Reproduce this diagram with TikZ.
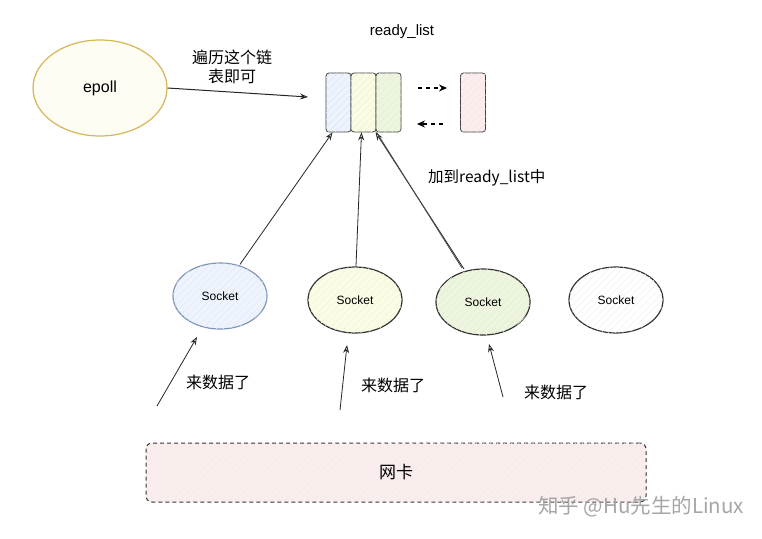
\documentclass[tikz,border=0pt]{standalone}
\usepackage{fontspec}
\setmainfont{Liberation Sans}
\newfontfamily\cjk{Noto Sans CJK SC}
\usetikzlibrary{patterns.meta,arrows.meta,shapes.geometric}
\definecolor{fblue}{HTML}{EEF4FB}
\definecolor{fyellow}{HTML}{FBFCE6}
\definecolor{fgreen}{HTML}{EEF5DF}
\definecolor{fpink}{HTML}{F9EEEE}
\definecolor{epollfill}{HTML}{FEFDF3}
\definecolor{epolldraw}{HTML}{D6B656}
\definecolor{sockblue}{HTML}{7F95B5}
\tikzset{
  hatch/.style={postaction={pattern={Lines[angle=45,distance=5pt,line width=0.5pt]},pattern color=#1}},
  cell/.style={draw=black!75,line width=0.8pt,rounded corners=3pt,minimum width=25pt,minimum height=59pt,inner sep=0pt},
  sock/.style={ellipse,draw=black!80,line width=1.2pt,minimum width=94pt,minimum height=66pt,inner sep=0pt,font=\fontsize{12}{14}\selectfont},
  lbl/.style={font=\cjk\fontsize{16}{19}\selectfont,align=center,inner sep=0pt},
  arr/.style={-{Stealth[open,length=8pt,width=6pt]},line width=0.8pt,black!85},
  link/.style={line width=0.9pt,black!85},
}
\begin{document}
\begin{tikzpicture}[x=1pt,y=-1pt]
\useasboundingbox (0,0) rectangle (762,538);
\fill[white] (0,0) rectangle (762,538);
% epoll
\node[ellipse,draw=epolldraw,fill=epollfill,line width=1.2pt,minimum width=134pt,minimum height=96pt,font=\fontsize{16}{19}\selectfont] (epoll) at (100,88) {epoll};
% ready list
\node[font=\fontsize{15}{18}\selectfont] (rl) at (402,32) {ready\_list};
\node[cell,fill=fblue,hatch=blue!12] (c1) at (338.5,102.5) {};
\node[cell,fill=fyellow,hatch=yellow!20!olive!15] (c2) at (363.5,102.5) {};
\node[cell,fill=fgreen,hatch=green!30!olive!18] (c3) at (388.5,102.5) {};
\node[cell,fill=fpink,hatch=red!12] (c4) at (473,102.5) {};
\coordinate (d1a) at (418,88);
\coordinate (d1b) at (447,88);
\coordinate (d2a) at (443,124);
\coordinate (d2b) at (417,124);
\draw[dashed,line width=1.2pt,dash pattern=on 4pt off 4pt,-{Stealth[open,length=8pt,width=7pt]}] (d1a) -- (d1b);
\draw[dashed,line width=1.2pt,dash pattern=on 4pt off 4pt,-{Stealth[open,length=8pt,width=7pt]}] (d2a) -- (d2b);
% epoll arrow
\coordinate (ea) at (308,97);
\draw[arr,line width=1pt] (epoll.east) -- (ea);
\node[lbl] (tl) at (232,67) {遍历这个链\\表即可};
% sockets
\node[sock,draw=sockblue,fill=fblue,hatch=blue!10] (s1) at (220,296) {Socket};
\node[sock,fill=fyellow,hatch=yellow!20!olive!12] (s2) at (355,300) {Socket};
\node[sock,fill=fgreen,hatch=green!30!olive!18] (s3) at (483,302) {Socket};
\node[sock,fill=white,hatch=black!6] (s4) at (616,300) {Socket};
% links to list
\draw[arr] (s1.north) ++(20,2) coordinate (s1t) -- ([xshift=-6pt]c1.south);
\draw[arr] (356,266) coordinate (s2t) -- ([xshift=-2pt]c2.south);
\draw[arr] (464,269) coordinate (s3t) -- (c3.south west);
\draw[link,black!70] (462,268) -- ([xshift=1pt]c3.south west);
\node[font=\cjk\fontsize{15.5}{18}\selectfont,anchor=west,inner sep=0pt] (add) at (428,178) {加到ready\_list中};
% bottom arrows
\coordinate (b1) at (157,406);
\coordinate (b1t) at (197,337);
\coordinate (b2) at (340,410);
\coordinate (b2t) at (347,345);
\coordinate (b3) at (503,397);
\coordinate (b3t) at (489,344);
\draw[arr] (b1) -- (b1t);
\draw[arr] (b2) -- (b2t);
\draw[arr] (b3) -- (b3t);
\node[lbl] (l1) at (218,382) {来数据了};
\node[lbl] (l2) at (393,385) {来数据了};
\node[lbl] (l3) at (556,392) {来数据了};
% NIC
\node[draw=black!80,dashed,dash pattern=on 4pt off 3pt,line width=1pt,rounded corners=6pt,fill=fpink,hatch=red!10,minimum width=500pt,minimum height=59pt,font=\cjk\fontsize{17}{20}\selectfont] (nic) at (396,472.5) {网卡};
% watermark
\node[font=\cjk\fontsize{20.5}{24}\selectfont,text=black!35,anchor=west,inner sep=0pt] (wm) at (538,507) {知乎 @Hu先生的Linux};
\end{tikzpicture}
\end{document}
